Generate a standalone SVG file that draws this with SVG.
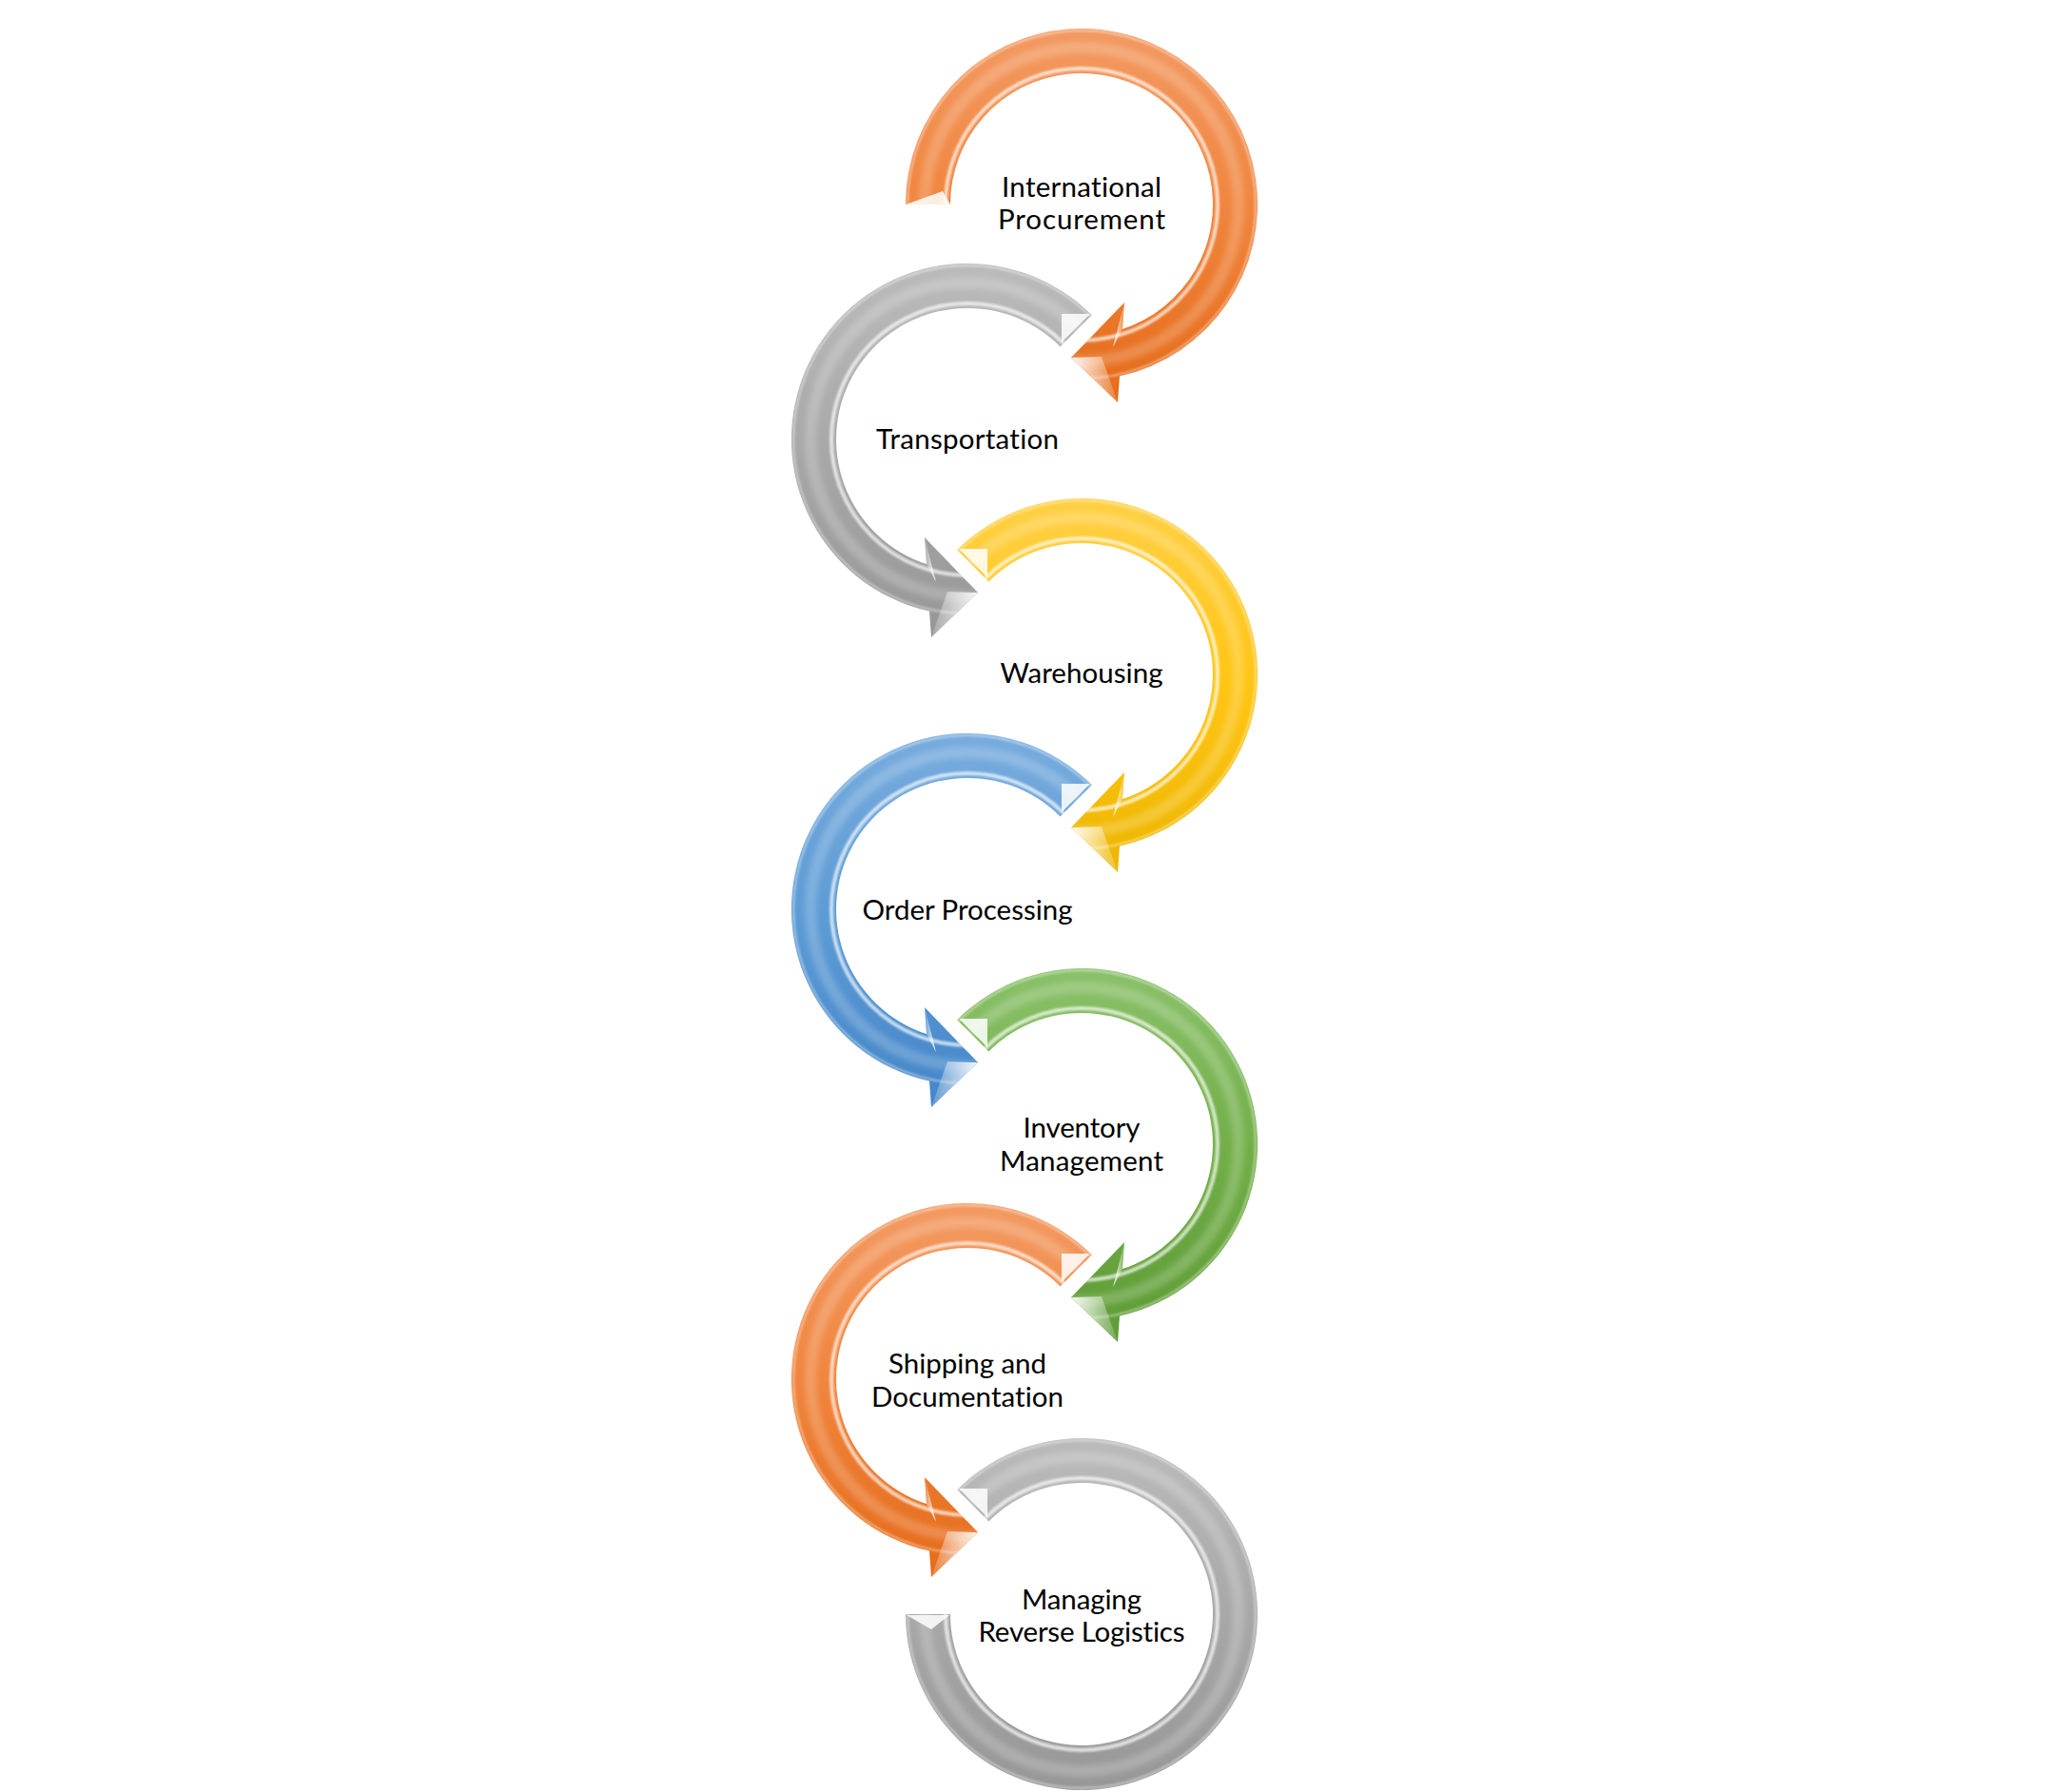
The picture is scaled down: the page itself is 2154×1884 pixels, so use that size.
<svg xmlns="http://www.w3.org/2000/svg" xmlns:xlink="http://www.w3.org/1999/xlink" width="2154" height="1884" viewBox="0 0 2154 1884">
<style>
.lbl{font-family:Lato,"Liberation Sans",sans-serif;font-size:29.5px;fill:#000;text-anchor:middle;font-variant-ligatures:none;font-feature-settings:"liga" 0,"clig" 0}
.rim{fill:none;stroke:#fff;stroke-width:4;opacity:.7}
.band{fill:none;stroke:#fff;stroke-width:12;opacity:.2}
.edge{fill:none;stroke:#fff;stroke-width:2.5;opacity:.4}
.facet{fill:url(#gFacet)}
.cut{fill:#fff;opacity:.85}
</style>
<defs>
<path id="arrowFirst" d="M -185 0 A 185 185 0 1 1 40 180.6 L 38 208 L -11 161 L 45 103 L 43 131.1 A 138 138 0 1 0 -138 0 Z"/>
<path id="arrowCW" d="M -130.8 -130.8 A 185 185 0 1 1 40 180.6 L 38 208 L -11 161 L 45 103 L 43 131.1 A 138 138 0 1 0 -97.6 -97.6 Z"/>
<path id="ring" d="M -130.8 -130.8 A 185 185 0 1 1 -185 0 L -138 0 A 138 138 0 1 0 -97.6 -97.6 Z"/>
<clipPath id="cFirst" clipPathUnits="userSpaceOnUse"><use xlink:href="#arrowFirst"/></clipPath>
<clipPath id="cCW" clipPathUnits="userSpaceOnUse"><use xlink:href="#arrowCW"/></clipPath>
<clipPath id="cRing" clipPathUnits="userSpaceOnUse"><use xlink:href="#ring"/></clipPath>
<filter id="soft" x="-20%" y="-20%" width="140%" height="140%"><feGaussianBlur stdDeviation="3"/></filter>
<filter id="soft1" x="-20%" y="-20%" width="140%" height="140%"><feGaussianBlur stdDeviation="1.2"/></filter>
<linearGradient id="gFacet" x1="0" y1="0" x2="1" y2="0"><stop offset="0" stop-color="#fff" stop-opacity=".9"/><stop offset="1" stop-color="#fff" stop-opacity=".15"/></linearGradient>
<linearGradient id="gOrange" x1="0" y1="0" x2="0" y2="1"><stop offset="0" stop-color="#F39A62"/><stop offset=".5" stop-color="#F0843C"/><stop offset="1" stop-color="#E56B19"/></linearGradient>
<linearGradient id="gGray" x1="0" y1="0" x2="0" y2="1"><stop offset="0" stop-color="#BBBBBB"/><stop offset=".5" stop-color="#A8A8A8"/><stop offset="1" stop-color="#979797"/></linearGradient>
<linearGradient id="gYellow" x1="0" y1="0" x2="0" y2="1"><stop offset="0" stop-color="#FFD045"/><stop offset=".5" stop-color="#FFC514"/><stop offset="1" stop-color="#EDB600"/></linearGradient>
<linearGradient id="gBlue" x1="0" y1="0" x2="0" y2="1"><stop offset="0" stop-color="#78ACDE"/><stop offset=".5" stop-color="#5C9BD5"/><stop offset="1" stop-color="#4586C9"/></linearGradient>
<linearGradient id="gGreen" x1="0" y1="0" x2="0" y2="1"><stop offset="0" stop-color="#8AC16A"/><stop offset=".5" stop-color="#72AE48"/><stop offset="1" stop-color="#5E9C36"/></linearGradient>
<g id="hlCW">
<circle class="band" r="165" filter="url(#soft)"/>
<circle class="rim" r="143" filter="url(#soft1)"/>
<circle class="edge" r="183" filter="url(#soft1)"/>
<polygon class="facet" points="-11,161 38,208 21,160"/>
<polygon class="facet" points="45,103 43,131 33,150"/>
</g>
</defs>

<g id="connectors"/>

<g id="node-international-procurement" transform="translate(1137,215)">
<use xlink:href="#arrowFirst" fill="url(#gOrange)"/>
<g clip-path="url(#cFirst)">
<use xlink:href="#hlCW"/>
<polygon class="cut" points="-185,0 -138,0 -146,-14" opacity=".4"/>
</g>
<text class="lbl" y="-8" textLength="168" lengthAdjust="spacing">International</text>
<text class="lbl" y="26" textLength="176" lengthAdjust="spacing">Procurement</text>
</g>

<g id="node-transportation" transform="translate(1017,462)">
<g transform="scale(-1,1)">
<use xlink:href="#arrowCW" fill="url(#gGray)"/>
<g clip-path="url(#cCW)">
<use xlink:href="#hlCW"/>
<polygon class="cut" points="-129,-132 -99,-132 -99,-102"/>
</g>
</g>
<text class="lbl" y="10" textLength="192" lengthAdjust="spacing">Transportation</text>
</g>

<g id="node-warehousing" transform="translate(1137,709)">
<use xlink:href="#arrowCW" fill="url(#gYellow)"/>
<g clip-path="url(#cCW)">
<use xlink:href="#hlCW"/>
<polygon class="cut" points="-129,-132 -99,-132 -99,-102"/>
</g>
<text class="lbl" y="9" textLength="171" lengthAdjust="spacing">Warehousing</text>
</g>

<g id="node-order-processing" transform="translate(1017,956)">
<g transform="scale(-1,1)">
<use xlink:href="#arrowCW" fill="url(#gBlue)"/>
<g clip-path="url(#cCW)">
<use xlink:href="#hlCW"/>
<polygon class="cut" points="-129,-132 -99,-132 -99,-102"/>
</g>
</g>
<text class="lbl" y="11" textLength="221" lengthAdjust="spacing">Order Processing</text>
</g>

<g id="node-inventory-management" transform="translate(1137,1203)">
<use xlink:href="#arrowCW" fill="url(#gGreen)"/>
<g clip-path="url(#cCW)">
<use xlink:href="#hlCW"/>
<polygon class="cut" points="-129,-132 -99,-132 -99,-102"/>
</g>
<text class="lbl" y="-7" textLength="123" lengthAdjust="spacing">Inventory</text>
<text class="lbl" y="28" textLength="172" lengthAdjust="spacing">Management</text>
</g>

<g id="node-shipping-documentation" transform="translate(1017,1450)">
<g transform="scale(-1,1)">
<use xlink:href="#arrowCW" fill="url(#gOrange)"/>
<g clip-path="url(#cCW)">
<use xlink:href="#hlCW"/>
<polygon class="cut" points="-129,-132 -99,-132 -99,-102"/>
</g>
</g>
<text class="lbl" y="-6" textLength="166" lengthAdjust="spacing">Shipping and</text>
<text class="lbl" y="29" textLength="202" lengthAdjust="spacing">Documentation</text>
</g>

<g id="node-managing-reverse-logistics" transform="translate(1137,1697)">
<use xlink:href="#ring" fill="url(#gGray)"/>
<g clip-path="url(#cRing)">
<circle class="band" r="165" filter="url(#soft)"/>
<circle class="rim" r="143" filter="url(#soft1)"/>
<circle class="edge" r="183" filter="url(#soft1)"/>
<polygon class="cut" points="-129,-132 -99,-132 -99,-102"/>
<polygon class="cut" points="-184,1 -139,1 -158,16" opacity=".6"/>
</g>
<text class="lbl" y="-5" textLength="126" lengthAdjust="spacing">Managing</text>
<text class="lbl" y="29" textLength="217" lengthAdjust="spacing">Reverse Logistics</text>
</g>
</svg>
